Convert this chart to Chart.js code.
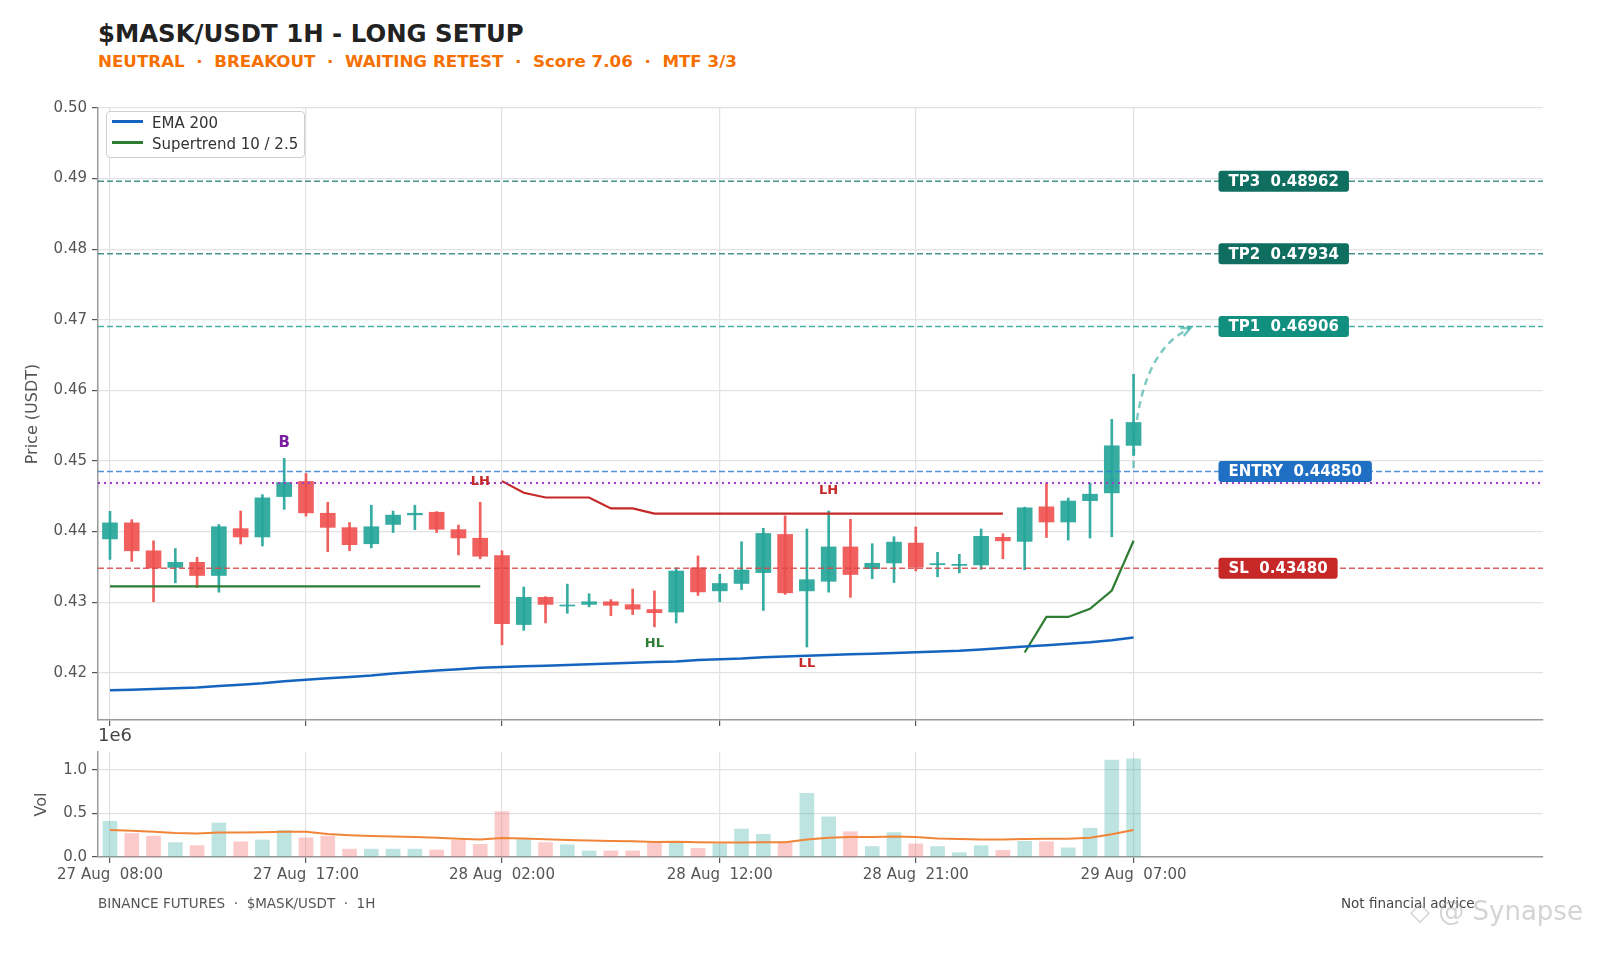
<!DOCTYPE html>
<html>
<head>
<meta charset="utf-8">
<script src="https://cdn.jsdelivr.net/npm/chart.js@4.4.0/dist/chart.umd.min.js"></script>
<style>
    body { margin: 0; background: #fff; font-family: 'DejaVu Sans', sans-serif; }
    #wrap { position: relative; width: 1604px; height: 957px; overflow: hidden; }
    .txt { position: absolute; white-space: pre; line-height: 1; }
    #legend { position: absolute; left: 106px; top: 111px; width: 199px; height: 47px; box-sizing: border-box;
              border: 1px solid #cfcfcf; border-radius: 4px; background: rgba(255,255,255,0.85); z-index: 2; }
    .leg-row { position: absolute; left: 5px; height: 17px; font-size: 15px; color: #333; white-space: pre; }
    .leg-row span { display: inline-block; width: 31px; height: 3px; margin-right: 9px; vertical-align: middle; position: relative; top: -2px; }
</style>
</head>
<body>
<div id="wrap">
    <div class="txt" style="left:98px;top:22px;font-size:24.4px;font-weight:bold;color:#222">$MASK/USDT 1H - LONG SETUP</div>
    <div class="txt" style="left:98px;top:53px;font-size:16.7px;font-weight:bold;color:#f57000">NEUTRAL  ·  BREAKOUT  ·  WAITING RETEST  ·  Score 7.06  ·  MTF 3/3</div>
    <canvas id="price" width="1604" height="640" style="position:absolute;left:0;top:94px"></canvas>
    <div id="legend"></div>
    <div class="txt" style="left:98px;top:726px;font-size:18px;color:#444">1e6</div>
    <canvas id="vol" width="1604" height="160" style="position:absolute;left:0;top:738px"></canvas>
    <div class="txt" style="left:98px;top:897px;font-size:13.5px;color:#555">BINANCE FUTURES  ·  $MASK/USDT  ·  1H</div>
    <div class="txt" style="left:1341px;top:897px;font-size:13.5px;color:#444">Not financial advice</div>
    <div class="txt" style="left:1410px;top:898px;font-size:26px;color:rgba(170,170,170,0.5)">◇ @ Synapse</div>
</div>

<script>
// hourly candles, 27 Aug 08:00 -> 29 Aug 07:00
const opens  = [0.43895,0.44123,0.43727,0.43491,0.43564,0.43377,0.44041,0.43923,0.44495,0.44709,0.44259,0.44055,
                0.43827,0.44100,0.44236,0.44273,0.44027,0.43905,0.43659,0.42682,0.43068,0.42945,0.42968,0.43005,
                0.42964,0.42895,0.42859,0.43486,0.43159,0.43264,0.43418,0.43959,0.43159,0.43295,0.43782,0.43473,
                0.43555,0.43836,0.43530,0.43520,0.43527,0.43918,0.43860,0.44350,0.44135,0.44437,0.44547,0.45220];
const highs  = [0.44286,0.44168,0.43868,0.43759,0.43636,0.44100,0.44291,0.44523,0.45036,0.44823,0.44414,0.44127,
                0.44373,0.44291,0.44373,0.44282,0.44091,0.44414,0.43727,0.43214,0.43077,0.43255,0.43118,0.43036,
                0.43186,0.43159,0.43486,0.43655,0.43395,0.43855,0.44045,0.44223,0.44036,0.44291,0.44173,0.43827,
                0.43927,0.44064,0.43705,0.43677,0.44036,0.43968,0.44346,0.44689,0.44474,0.44689,0.45590,0.46227];
const lows   = [0.43605,0.43577,0.43005,0.43273,0.43209,0.43141,0.43823,0.43795,0.44314,0.44218,0.43714,0.43727,
                0.43768,0.43986,0.44027,0.43986,0.43668,0.43614,0.42395,0.42600,0.42705,0.42841,0.42932,0.42809,
                0.42823,0.42650,0.42705,0.43095,0.43005,0.43177,0.42882,0.43109,0.42364,0.43141,0.43068,0.43332,
                0.43277,0.43441,0.43359,0.43414,0.43464,0.43614,0.43458,0.43915,0.43879,0.43908,0.43926,0.45078];
const closes = [0.44123,0.43727,0.43482,0.43564,0.43377,0.44068,0.43923,0.44477,0.44695,0.44264,0.44059,0.43814,
                0.44068,0.44232,0.44259,0.44032,0.43909,0.43650,0.42695,0.43068,0.42968,0.42959,0.43005,0.42955,
                0.42900,0.42850,0.43441,0.43145,0.43264,0.43455,0.43973,0.43132,0.43318,0.43782,0.43391,0.43550,
                0.43850,0.43495,0.43545,0.43535,0.43932,0.43868,0.44336,0.44135,0.44432,0.44529,0.45215,0.45545];
const ema200 = [0.4175,0.4176,0.4177,0.4178,0.4179,0.4181,0.4183,0.4185,0.4188,0.4190,0.4192,0.4194,
                0.4196,0.4199,0.4201,0.4203,0.4205,0.4207,0.4208,0.4209,0.4210,0.4211,0.4212,0.4213,
                0.4214,0.4215,0.4216,0.4218,0.4219,0.4220,0.4222,0.4223,0.4224,0.4225,0.4226,0.4227,
                0.4228,0.4229,0.4230,0.4231,0.4233,0.4235,0.4237,0.4239,0.4241,0.4243,0.4246,0.4250];
const supertrend = [0.43223,0.43223,0.43223,0.43223,0.43223,0.43223,0.43223,0.43223,0.43223,0.43223,0.43223,0.43223,
                0.43223,0.43223,0.43223,0.43223,0.43223,0.43223,null,null,null,null,null,null,
                null,null,null,null,null,null,null,null,null,null,null,null,
                null,null,null,null,null,null,0.42286,0.42790,0.42790,0.42904,0.43165,0.43870];
const lhLine = [null,null,null,null,null,null,null,null,null,null,null,null,
                null,null,null,null,null,null,0.44714,0.44550,0.44482,0.44482,0.44482,0.44327,
                0.44327,0.44255,0.44255,0.44255,0.44255,0.44255,0.44255,0.44255,0.44255,0.44255,0.44255,0.44255,
                0.44255,0.44255,0.44255,0.44255,0.44255,0.44255,null,null,null,null,null,null];
const volume = [410000,270000,240000,165000,130000,390000,175000,195000,305000,220000,240000,90000,
                90000,90000,90000,80000,190000,145000,520000,210000,165000,140000,70000,70000,
                70000,160000,180000,100000,150000,320000,260000,170000,730000,460000,290000,120000,
                280000,150000,120000,50000,130000,75000,180000,175000,105000,330000,1110000,1125000];
const volMA  = [310000,300000,290000,275000,270000,280000,280000,285000,290000,290000,265000,250000,
                240000,235000,228000,220000,210000,200000,218000,212000,203000,195000,188000,183000,
                180000,173000,175000,170000,166000,166000,170000,170000,200000,220000,230000,230000,
                235000,230000,212000,205000,200000,200000,205000,210000,210000,220000,260000,310000];

const tickIdx = [0, 9, 18, 28, 37, 47];
const tickLbl = ['27 Aug  08:00', '27 Aug  17:00', '28 Aug  02:00', '28 Aug  12:00', '28 Aug  21:00', '29 Aug  07:00'];
const priceTicks = [0.42, 0.43, 0.44, 0.45, 0.46, 0.47, 0.48, 0.49, 0.50];
const volTicks = [0, 500000, 1000000];

const levelNames  = ['TP3', 'TP2', 'TP1', 'ENTRY', 'SL'];
const levelPrices = [0.48962, 0.47934, 0.46906, 0.44850, 0.43480];
const breakLevel = 0.44686;

const swingText  = ['B', 'LH', 'LH', 'HL', 'LL'];
const swingIdx   = [8, 17, 33, 25, 32];
const swingPrice = [0.4525, 0.4471, 0.4458, 0.4241, 0.4213];

const UP = 'rgba(38,166,154,0.92)', DOWN = 'rgba(239,83,80,0.92)';
const levelLine = ['rgba(22,120,108,0.8)', 'rgba(22,120,108,0.8)', 'rgba(38,166,154,0.85)', 'rgba(50,130,210,0.85)', 'rgba(215,70,70,0.85)'];
const levelBox  = ['#0f6e60', '#0f6e60', '#11907f', '#1f6fc5', '#c62828'];
const swingColor = ['#7b1fa2', '#c62828', '#c62828', '#2e7d32', '#c62828'];

const XMIN = -0.55, XMAX = 65.8;
const FONT = 'DejaVu Sans';
const candleColors = opens.map((o, i) => closes[i] >= o ? UP : DOWN);
const xy = arr => arr.map((v, i) => ({ x: i, y: v }));

// legend in the corner, like the mpl one
const legendItems = [['EMA 200', '#1565c0'], ['Supertrend 10 / 2.5', '#2e7d32']];
legendItems.forEach(([name, color], k) => {
    const row = document.createElement('div');
    row.className = 'leg-row';
    row.style.top = (2 + k * 21) + 'px';
    row.innerHTML = `<span style="background:${color}"></span>${name}`;
    document.getElementById('legend').appendChild(row);
});

const xTickHook = s => { s.ticks = tickIdx.map(v => ({ value: v })); };

const overlay = {
    id: 'overlay',
    afterDatasetsDraw(chart) {
        const { ctx, chartArea: a, scales: { x, y } } = chart;
        ctx.save();
        ctx.beginPath();
        ctx.rect(a.left, a.top, a.right - a.left, a.bottom - a.top);
        ctx.clip();

        // breakout level: faint band + dotted line
        const yb = y.getPixelForValue(breakLevel);
        ctx.fillStyle = 'rgba(156,39,176,0.04)';
        ctx.fillRect(a.left, yb - 4, a.right - a.left, 8);
        ctx.strokeStyle = '#9c3fc4';
        ctx.lineWidth = 2;
        ctx.setLineDash([2, 4]);
        ctx.beginPath(); ctx.moveTo(a.left, yb); ctx.lineTo(a.right, yb); ctx.stroke();

        // trade levels
        ctx.lineWidth = 1.5;
        ctx.setLineDash([6, 3]);
        levelPrices.forEach((p, k) => {
            const py = y.getPixelForValue(p);
            ctx.strokeStyle = levelLine[k];
            ctx.beginPath(); ctx.moveTo(a.left, py); ctx.lineTo(a.right, py); ctx.stroke();
        });
        ctx.setLineDash([]);

        // projection arrow from last candle up to TP1
        const x0 = x.getPixelForValue(47), y0 = y.getPixelForValue(0.4490);
        const cx = x.getPixelForValue(47.05), cy = y.getPixelForValue(0.4652);
        const x1 = x.getPixelForValue(49.6), y1 = y.getPixelForValue(0.4688);
        ctx.strokeStyle = 'rgba(38,166,154,0.6)';
        ctx.lineWidth = 2.5;
        ctx.setLineDash([7, 5]);
        ctx.beginPath(); ctx.moveTo(x0, y0); ctx.quadraticCurveTo(cx, cy, x1, y1); ctx.stroke();
        ctx.setLineDash([]);
        const ang = Math.atan2(y1 - cy, x1 - cx);
        ctx.beginPath();
        ctx.moveTo(x1 - 10 * Math.cos(ang - 0.45), y1 - 10 * Math.sin(ang - 0.45));
        ctx.lineTo(x1, y1);
        ctx.lineTo(x1 - 10 * Math.cos(ang + 0.45), y1 - 10 * Math.sin(ang + 0.45));
        ctx.stroke();

        // swing labels
        ctx.textAlign = 'center';
        ctx.textBaseline = 'middle';
        swingText.forEach((t, k) => {
            ctx.font = (t === 'B' ? 'bold 15px' : 'bold 13px') + ' "' + FONT + '"';
            ctx.fillStyle = swingColor[k];
            ctx.fillText(t, x.getPixelForValue(swingIdx[k]), y.getPixelForValue(swingPrice[k]));
        });

        // level tags
        ctx.font = 'bold 15px "' + FONT + '"';
        ctx.textAlign = 'left';
        const bx = x.getPixelForValue(50.9);
        levelPrices.forEach((p, k) => {
            const label = levelNames[k] + '  ' + p.toFixed(5);
            const w = ctx.measureText(label).width + 20;
            const py = y.getPixelForValue(p);
            ctx.fillStyle = levelBox[k];
            ctx.beginPath();
            ctx.roundRect(bx, py - 10.5, w, 21, 3);
            ctx.fill();
            ctx.fillStyle = '#fff';
            ctx.fillText(label, bx + 10, py + 1);
        });
        ctx.restore();
    }
};

const tickFont = { family: FONT, size: 15 };

new Chart(document.getElementById('price'), {
    type: 'bar',
    data: {
        datasets: [
            { type: 'line', label: 'EMA 200', data: xy(ema200), borderColor: '#1565c0', borderWidth: 2.5, pointRadius: 0, order: 0 },
            { type: 'line', label: 'Supertrend 10 / 2.5', data: xy(supertrend), borderColor: '#2e7d32', borderWidth: 2.2, pointRadius: 0, spanGaps: false, order: 0 },
            { type: 'line', label: 'LH', data: xy(lhLine), borderColor: '#c62828', borderWidth: 2.2, pointRadius: 0, spanGaps: false, order: 0 },
            { label: 'wick', data: lows.map((l, i) => ({ x: i, y: [l, highs[i]] })), backgroundColor: candleColors, barThickness: 2, grouped: false, order: 2 },
            { label: 'body', data: opens.map((o, i) => ({ x: i, y: [o, closes[i]] })), backgroundColor: candleColors, barThickness: 15, minBarLength: 1, grouped: false, order: 1 }
        ]
    },
    options: {
        responsive: false,
        animation: false,
        events: [],
        layout: { padding: { left: 20, right: 61, top: 10, bottom: 0 } },
        plugins: { legend: { display: false }, tooltip: { enabled: false } },
        scales: {
            x: {
                type: 'linear', min: XMIN, max: XMAX, offset: false,
                afterBuildTicks: xTickHook,
                afterFit: s => { s.height = 10; },
                ticks: { display: false },
                grid: { color: '#e2e2e2', lineWidth: 1.2, tickColor: '#555', tickLength: 6, offset: false },
                border: { color: '#9a9a9a', width: 1.5 }
            },
            y: {
                min: 0.4133, max: 0.50,
                afterBuildTicks: s => { s.ticks = priceTicks.map(v => ({ value: v })); },
                afterFit: s => { s.width = 78; },
                ticks: { callback: v => v.toFixed(2), color: '#555', font: tickFont, padding: 5 },
                grid: { color: '#e2e2e2', lineWidth: 1.2, tickColor: '#555', tickLength: 6 },
                border: { color: '#9a9a9a', width: 1.5 },
                title: { display: true, text: 'Price (USDT)', color: '#555', font: { family: FONT, size: 16 }, padding: { top: 3, bottom: 4 } }
            }
        }
    },
    plugins: [overlay]
});

new Chart(document.getElementById('vol'), {
    type: 'bar',
    data: {
        datasets: [
            { type: 'line', data: xy(volMA), borderColor: '#f0853a', borderWidth: 2, pointRadius: 0, order: 0 },
            { data: xy(volume), backgroundColor: candleColors.map(c => c === UP ? 'rgba(38,166,154,0.3)' : 'rgba(239,83,80,0.3)'), barThickness: 14, grouped: false, order: 1 }
        ]
    },
    options: {
        responsive: false,
        animation: false,
        events: [],
        layout: { padding: { left: 30, right: 61, top: 7, bottom: 0 } },
        plugins: { legend: { display: false }, tooltip: { enabled: false } },
        scales: {
            x: {
                type: 'linear', min: XMIN, max: XMAX, offset: false,
                afterBuildTicks: xTickHook,
                afterFit: s => { s.height = 41; },
                ticks: { callback: v => tickLbl[tickIdx.indexOf(v)], color: '#555', font: tickFont, maxRotation: 0, autoSkip: false, padding: 3 },
                grid: { color: '#e2e2e2', lineWidth: 1.2, tickColor: '#555', tickLength: 6, offset: false },
                border: { color: '#9a9a9a', width: 1.5 }
            },
            y: {
                min: 0, max: 1204000,
                afterBuildTicks: s => { s.ticks = volTicks.map(v => ({ value: v })); },
                afterFit: s => { s.width = 68; },
                ticks: { callback: v => (v / 1e6).toFixed(1), color: '#555', font: tickFont, padding: 5 },
                grid: { color: '#e2e2e2', lineWidth: 1.2, tickColor: '#555', tickLength: 6 },
                border: { color: '#9a9a9a', width: 1.5 },
                title: { display: true, text: 'Vol', color: '#555', font: { family: FONT, size: 16 }, padding: { top: 2, bottom: 4 } }
            }
        }
    }
});
</script>
</body>
</html>
